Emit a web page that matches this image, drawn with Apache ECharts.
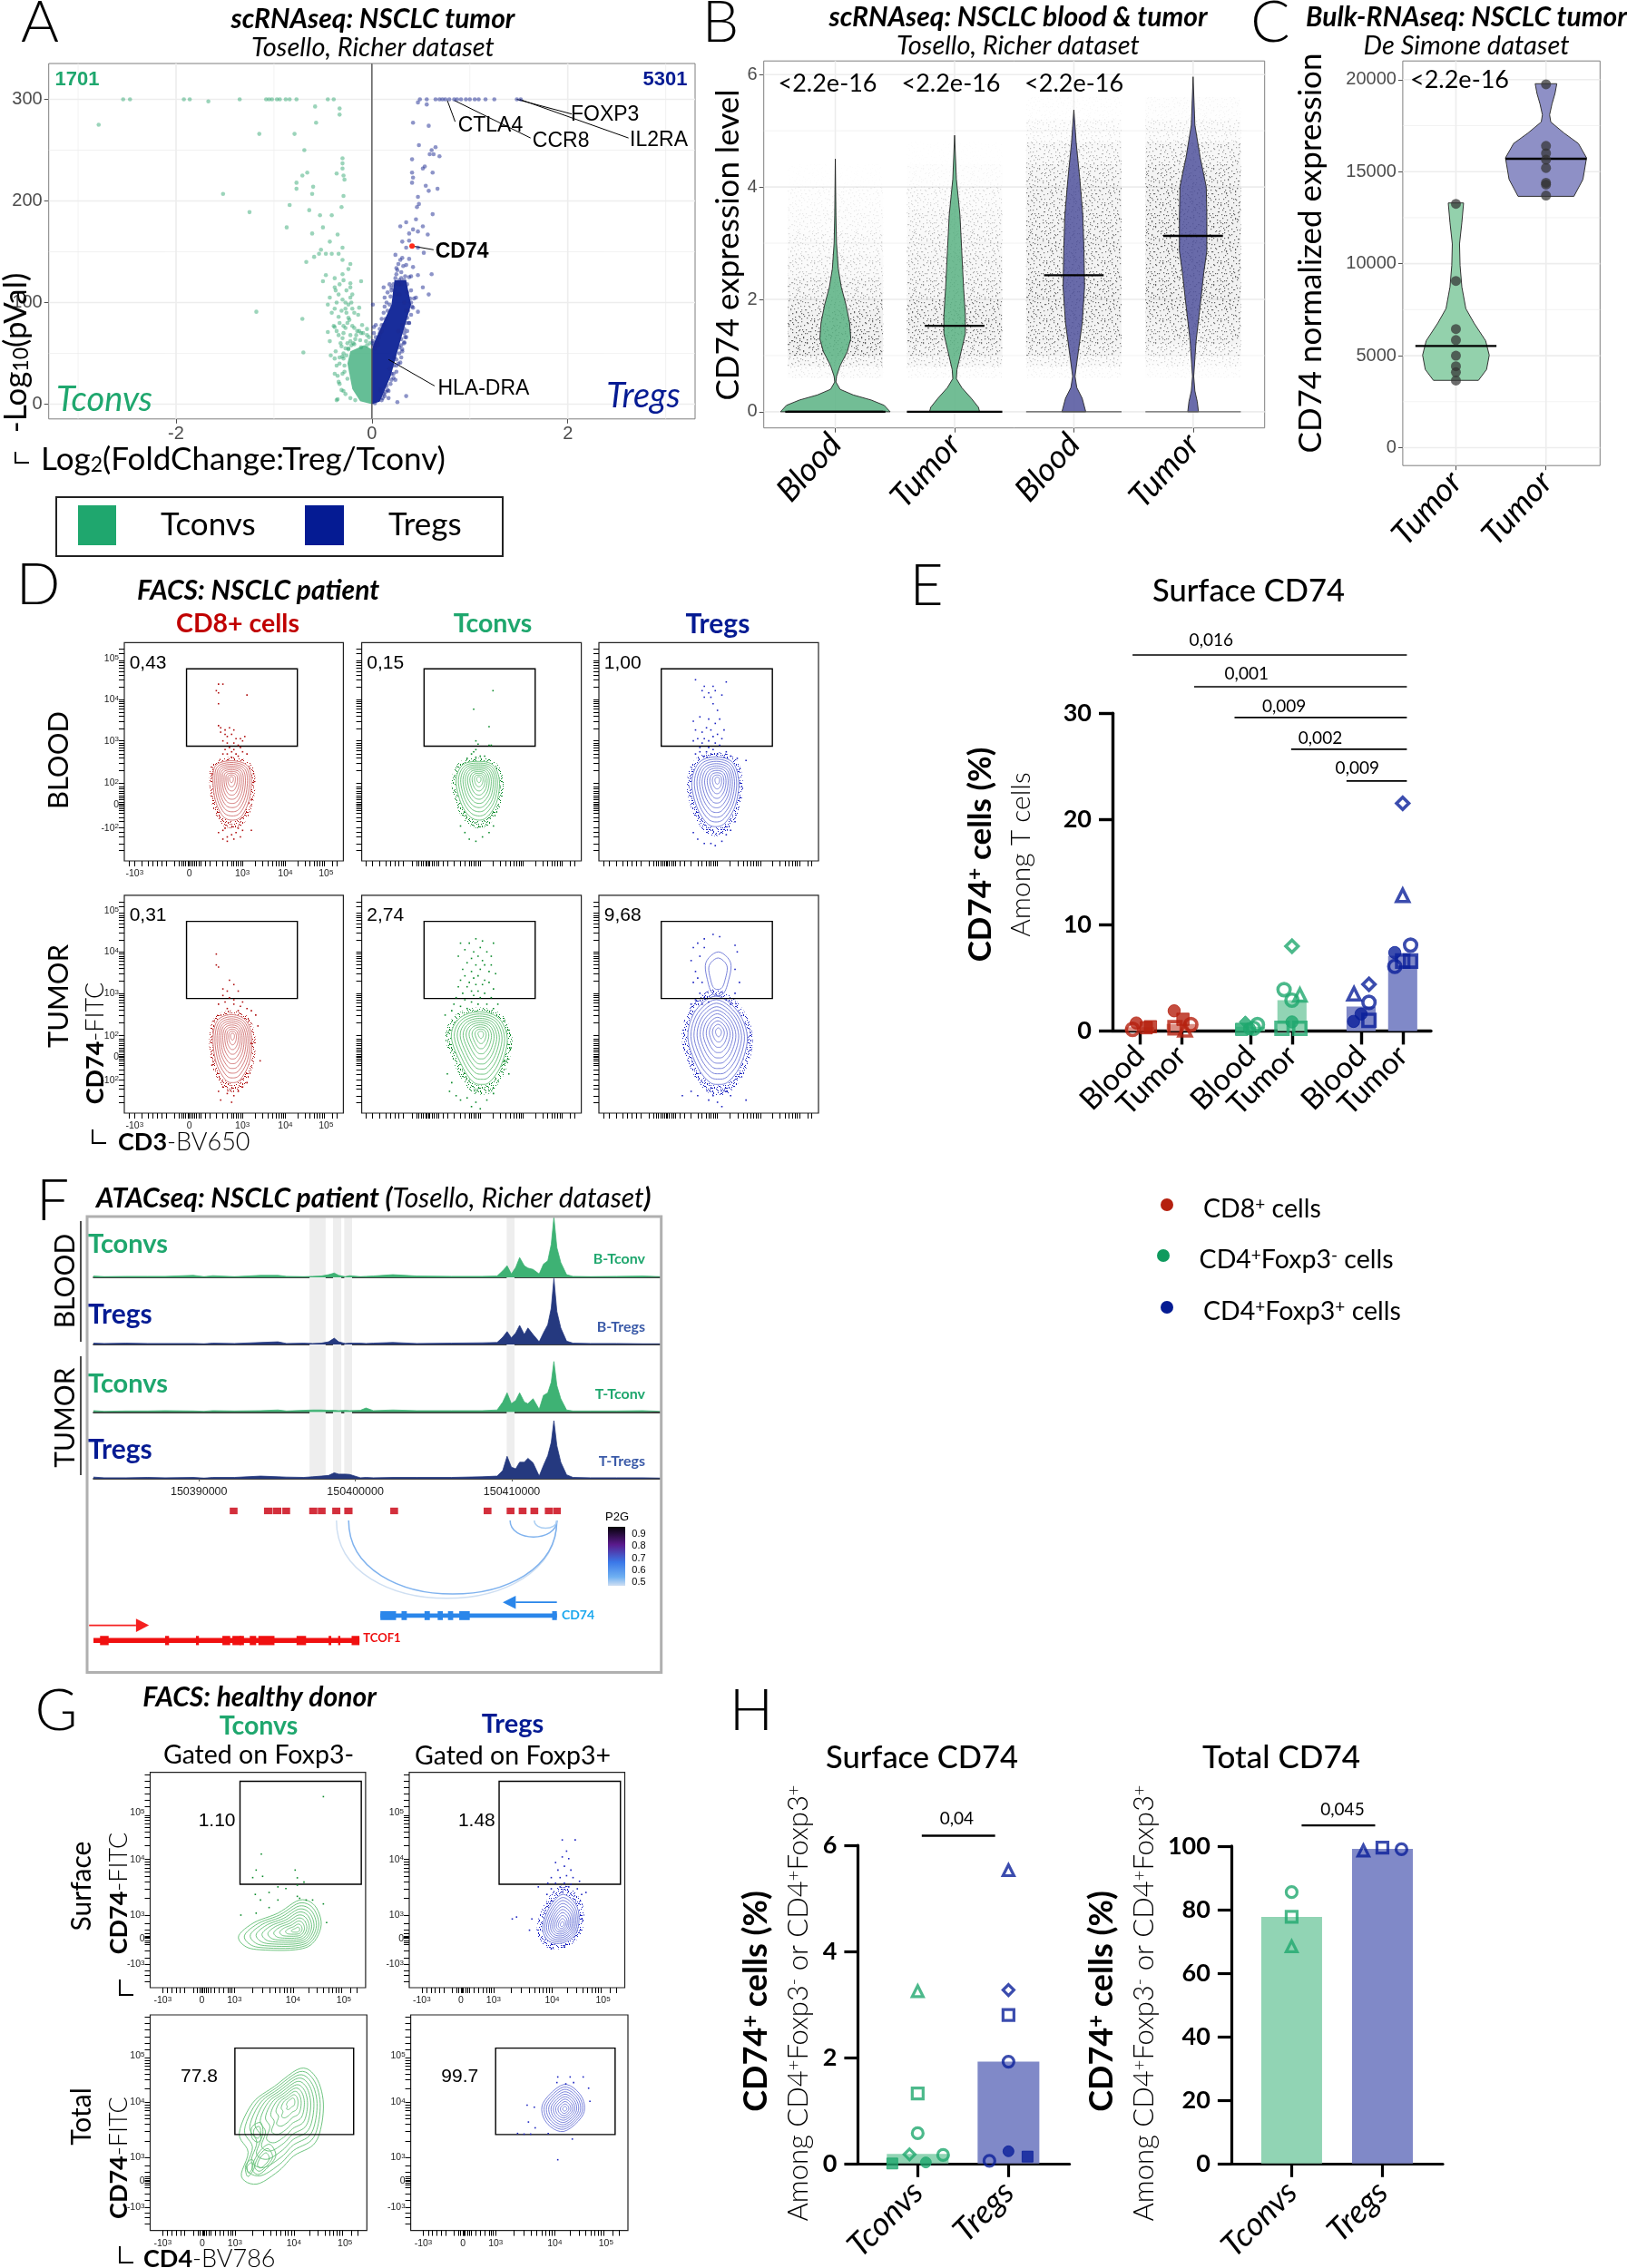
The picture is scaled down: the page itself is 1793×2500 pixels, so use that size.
<!DOCTYPE html>
<html><head><meta charset="utf-8">
<style>html,body{margin:0;padding:0;background:#fff}#c{width:1793px;height:2500px}</style>
<script src="https://cdn.jsdelivr.net/npm/echarts@6/dist/echarts.min.js"></script>
</head><body><div id="c"></div>
<script>
// ---------- colours / fonts
const GREEN='#1fa76e',NAVY='#051b93',RED='#b52412',LATO='Lato',HEL='"Liberation Sans"';
// ---------- A: volcano (x = log2FC, y = -log10 p)
const volGreenX=[-2.54,-2.47,-1.92,-1.86,-1.35,-1.08,-1.05,-1.02,-.97,-.94,-.88,-.84,-.77,-.45,-.39,-1.67,-.58,-.33,-.33,-.57,-2.79,-1.15,-.79,-.69,-.3,-.3,-.3,-.66,-.71,-.36,-.29,-.28,-.77,-.6,-.77,-.61,-1.52,-.29,-.84,-.31,-.64,-1.25,-.53,-.41,-.87,-.5,-.61,-.35,-.43,-.3,-.52,-.54,-.47,-.41,-.34,-.59,-.67,-.3,-.22,-.24,-.47,-.5,-.38,-.29,-.22,-.11,-.37,-.45,-.36,-.22,-.27,-1.18,-.71,-.38,-.2,-.24,-.39,-.29,-.2,-.45,-.34,-.22,-.11,-.7,-.31,-.24,-.18,-.38,-.29,-.36,-.29,-.35,-.33,-.3,-.28,-.35,-.3,-.33,-.27,-.22,-.16,-.12,-.06,-.03,-.18,-.25,-.14,-.1,-.05,-.32,-.37,-.42,-.29,-.34,-.41,-.24,-.2,-.3,-.33,-.43];
const volGreenY=[300,300,300,300,300,300,300,300,300,300,300,300,300,300,300,298,293,291,285,277,275,266,266,250,242,237,232,228,225,227,225,221,218,214,212,207,207,205,196,194,191,189,186,186,174,174,168,167,160,154,152,148,148,148,148,145,140,142,138,133,127,121,124,122,119,121,112,98,100,105,94,91,84,94,94,85,77,77,77,71,68,68,70,51,57,54,59,45,45,4,13,5,20,30,38,28,47,40,55,62,68,63,62,66,75,80,88,78,74,60,52,48,70,86,90,98,108,103,118,105];
const volBlueX=[.49,.56,.65,.69,.72,.75,.79,.84,.87,.91,.96,1,1.05,1.09,1.16,1.25,1.48,1.52,.47,.56,.42,.58,.48,.65,.61,.59,.63,.69,.41,.54,.52,.62,.41,.42,.41,.55,.67,.47,.58,.48,.46,.62,.45,.35,.29,.42,.52,.47,.38,.57,.31,.38,.47,.53,.35,.24,.31,.38,.35,.42,.61,.47,.26,.4,.33,.12,.58,.52,.45,.13,.47,.01,.38,.35,.35,.26,.17,.24,.29,.31,.33,.17,.12,.15,.2,.22,.18,.25,.23,.28,.3,.33,.27,.31,.36,.35,.4,.28,.2,.3,.36,.33,.12,.1,.08,.05,.02,.04,.42,.4,.38,.3,.25,.27];
const volBlueY=[300,300,300,300,300,300,300,300,300,300,300,300,300,300,300,300,300,300,297,295,277,274,255,253,250,246,246,244,241,234,232,228,228,223,218,215,212,204,210,197,194,187,182,179,175,172,175,170,168,167,160,161,154,149,154,147,144,143,137,135,128,127,119,126,122,115,108,115,105,105,91,98,80,66,8,2,13,24,41,54,61,6,10,18,24,30,35,38,46,50,58,70,72,78,85,92,100,108,115,118,110,100,90,78,70,62,70,78,95,112,125,130,128,138];
const volGreenEdge=[[-.05,68],[-.09,70],[-.13,72],[-.17,64],[-.21,58],[-.25,60],[-.29,50],[-.33,46],[-.36,38],[-.38,30],[-.34,22],[-.31,14],[-.27,10],[-.22,6],[-.17,4],[-.25,25],[-.28,32],[-.26,48],[-.24,55],[-.19,60],[-.15,72],[-.11,56],[-.05,58],[-.02,60],[-.3,65],[-.27,75],[-.23,83],[-.18,90],[-.13,95],[-.31,92],[-.38,76],[-.43,62],[-.26,90],[-.36,72],[-.33,80],[-.27,100],[-.21,100],[-.22,115],[-.26,112],[-.3,128],[-.34,108],[-.38,115]];
const volBlueEdge=[[.05,60],[.07,66],[.1,72],[.12,78],[.14,84],[.16,92],[.18,98],[.19,106],[.2,112],[.22,118],[.24,124],[.26,132],[.1,4],[.13,8],[.16,14],[.19,20],[.22,26],[.25,32],[.27,40],[.3,46],[.31,52],[.33,60],[.34,66],[.36,72],[.38,80],[.4,88],[.41,96],[.43,104],[.36,118],[.34,126],[.3,124],[.27,118],[.23,112],[.32,136],[.29,142],[.28,122],[.25,134],[.24,108],[.39,104],[.37,92],[.35,80],[.33,74],[.3,64],[.28,56],[.25,44],[.22,38],[.2,30],[.14,12],[.11,6],[.09,14],[.03,1],[.02,58],[.01,62],[.03,55],[.06,58],[.04,66],[.02,76],[.01,60],[.08,74],[.1,84],[.13,96],[.15,100],[.16,110],[.18,118]];
const volGreenCoreX=[0,-.12,-.2,-.25,-.22,-.08,0], volGreenCoreY=[0,3,15,40,52,58,54];
const volBlueCoreX=[0,.08,.19,.29,.4,.35,.23,.2,.03,0], volBlueCoreY=[0,2.5,27,62,98,122,122,98,62,54];
const geneNames=['FOXP3','IL2RA','CCR8','CTLA4','CD74','HLA-DRA'];
const geneX=[1.48,1.51,.84,.77,.41,.17], geneY=[300,300,299,299,155.7,44];
const geneEndX=[2.04,2.62,1.62,.85,.63,.64], geneEndY=[285.6,262,262,278,152,18];
const geneLabelX=[2.38,2.93,1.93,1.21,.92,1.14], geneLabelY=[285,260,259,273.6,150,15];
const volTickX=[-2,0,2], volTickY=[0,100,200,300];
// ---------- B: single-cell violins
const bCats=['Blood','Tumor','Blood','Tumor'];
const bTicks=[0,2,4,6], bPvals=['<2.2e-16','<2.2e-16','<2.2e-16'];
const vioVal1=[4.5,3.5,3.0,2.54,2.22,1.9,1.58,1.3,1.07,.82,.63,.53,.4,.3,.21,.115,0];
const vioHw1=[0,.005,.01,.025,.05,.09,.12,.13,.10,.04,.01,.005,.04,.15,.30,.41,.46];
const vioVal2=[4.92,4.14,3.5,2.86,2.22,1.71,1.39,1.07,.75,.59,.43,.24,.08,0];
const vioHw2=[0,.015,.045,.06,.075,.09,.09,.055,.02,.015,.06,.14,.2,.21];
const vioVal3=[5.37,4.78,4.14,3.5,2.86,2.22,1.58,.95,.63,.43,.24,0];
const vioHw3=[0,.02,.05,.075,.085,.09,.07,.03,.01,.025,.07,.1];
const vioVal4=[5.96,5.1,4.52,4.01,3.5,2.86,2.48,1.9,1.26,.63,.37,.18,0];
const vioHw4=[0,.015,.06,.11,.115,.115,.09,.06,.025,.005,.015,.035,.045];
const bMedian=[0,1.53,2.43,3.13], bMedianHw=[.42,.25,.25,.25];
const jitterEdges=[.6,.8,1,1.2,1.4,1.6,1.8,2,2.4,2.8,3.2,3.6,4,4.4,4.8,5.2,5.6];
const jitter1=[.12,.45,.9,1,.95,.9,.7,.5,.3,.2,.12,.08,.02,0,0,0];
const jitter2=[.08,.35,.65,.8,.85,.85,.8,.6,.5,.4,.3,.2,.05,.02,0,0];
const jitter3=[.08,.3,.65,.8,.8,.85,.85,.85,.8,.8,.75,.7,.6,.4,.15,.03];
const jitter4=[.05,.2,.45,.7,.75,.85,.9,.9,.9,.9,.9,.85,.75,.55,.2,.05];
// ---------- C: bulk violins
const cCats=['Tumor','Tumor'], cTicks=[0,5000,10000,15000,20000];
const cVal1=[3660,4250,5030,5810,6780,7560,8730,9900,11070,12240,13300];
const cHw1=[.25,.34,.37,.33,.2,.11,.066,.046,.04,.066,.085];
const cVal2=[13660,14580,15750,16530,17100,17700,18090,18670,19250,19780];
const cHw2=[.31,.41,.45,.36,.2,.053,.04,.066,.1,.12];
const cMedian=[5530,15700];
const cDots1=[13250,9060,6450,5850,5000,4430,4100,3650];
const cDots2=[19750,16400,16000,15650,15200,14400,14300,13700];
// ---------- D: FACS, contour outlines in channel units (0-100 along each display axis)
const dYLabelVals=[15.1,25.6,35.5,55,73.9,92.6], dYLabels=['-10{s|2}','0','10{s|2}','10{s|3}','10{s|4}','10{s|5}'];
const dXLabelVals=[4.7,29.7,53.9,73.5,92.1], dXLabels=['-10{s|3}','0','10{s|3}','10{s|4}','10{s|5}'];
const dPct=['0,43','0,15','1,00','0,31','2,74','9,68'];
const dOutBC=[[48.9,45.9],[55.8,44],[58,38],[57,28],[53.5,20.5],[49.4,18.7],[45,20.5],[41.5,28],[40.5,38],[42,44]], dCenBC=[48.9,37.8];
const dOutBT=[[53.1,45.6],[59.7,44],[62.7,37],[61.5,27],[57.5,20.5],[53.6,18.7],[49,20.5],[45,27],[43,37],[46,44]], dCenBT=[53.4,37.8];
const dOutBR=[[53.3,47.7],[61,45],[63.7,36],[62,25],[57.5,17.5],[53.3,15.7],[49,17.5],[44.5,25],[42.3,36],[45.5,45]], dCenBR=[54,37.3];
const dOutTC=[[48.9,45.2],[55.5,42.5],[58.2,34],[57,23],[53,15.5],[49.4,14],[46,15.5],[42,23],[40.5,34],[42.5,42.5]], dCenTC=[49.4,35.7];
const dOutTT=[[53.6,46.5],[62.5,43.5],[66.3,34],[63.5,22],[58.5,14.5],[54.8,13.2],[50.5,14.5],[45.5,22],[40.8,35],[44.5,43.5]], dCenTT=[54.3,36.6];
const dOutTR=[[53.3,53.7],[63,47],[67.6,35],[64.5,22],[59,14.5],[54.5,13.2],[50,14.5],[44.5,22],[40.5,35],[44,47]], dCenTR=[54.5,37.5];
const dLobeTR=[[54.4,74],[60,69],[58.8,60],[56.4,54.6],[52,54.6],[49.7,60],[48.7,69]], dLobeCenTR=[54,64];
const dDotsBC=[[43,81],[45,81],[42,78],[43,77],[56,76],[43,72],[43,62],[44,61],[46,60],[48,61],[50,60],[44,59],[46,58],[47,57],[49,58],[51,56],[53,56],[54,55],[55,57],[45,55],[47,54],[50,54],[52,53],[48,52],[50,51],[53,52],[46,51],[49,50],[51,49],[47,49],[54,50],[49,47.5],[52,48],[45,49],[56,49],[43,13],[45,10],[47,11],[49,12],[51,13],[53,11],[45,14],[47,9],[50,10],[46,15],[52,15],[54,14],[58,14],[58,28],[59,36],[59,40],[40,40]];
const dDotsBT=[[59.8,78],[51,69.5],[58,61.5],[52,55],[53,53.5],[58,53],[59,53],[52,51],[51,50],[50,49],[54,48],[52,47.5],[48,47],[56,48],[47,13],[49,10],[52,9],[55,11],[58,13],[60,16],[45,16]];
const dDotsBR=[[44,83],[48,80],[52,80],[58,82],[47,78],[50,77],[53,78],[56,76],[51,75],[48,75],[52,72],[54,69],[43,64],[46,66],[50,65],[53,63],[55,65],[57,60],[44,60],[47,59],[49,61],[51,60],[54,58],[52,57],[56,56],[48,56],[45,56],[43,55],[50,55],[47,54],[53,54],[55,53],[46,52],[50,52],[52,51],[49,50],[46,50],[54,49],[44,49],[58,50],[60,48],[48,48],[63,47],[67,46],[45,10],[48,8],[51,8],[53,7],[56,9],[58,12],[43,13],[60,14],[62,18]];
const dDotsTC=[[42,73],[42,68],[43,67],[48,61],[50,59],[45,57],[47,56],[52,56],[45,54],[48,53],[50,52],[54,51],[46,51],[50,50],[43,50],[53,49],[56,48],[58,47],[60,45],[52,47],[47,48],[61,40],[58,32],[62,24],[45,12],[47,9],[50,8],[52,10],[54,12],[44,6],[49,5],[43,10],[56,14],[40,22]];
const dDotsTT=[[45,78],[49,78],[52,80],[55,79],[60,78],[47,75],[51,74],[54,76],[57,74],[59,72],[44,72],[50,71],[53,72],[55,70],[48,69],[52,68],[56,68],[59,68],[46,66],[50,65],[54,66],[58,65],[61,64],[47,63],[51,62],[53,63],[56,61],[45,61],[49,60],[52,59],[55,59],[58,60],[60,57],[48,58],[44,58],[50,56],[53,56],[56,55],[46,55],[51,54],[54,53],[59,53],[43,53],[47,52],[50,51],[53,50],[57,50],[42,50],[62,50],[45,49],[48,48],[60,48],[38,45],[41,47],[40,10],[43,8],[45,6],[48,7],[50,3],[52,5],[54,2],[57,6],[60,9],[41,14],[65,24],[68,30],[67,18],[39,18]];
const dDotsTR=[[48,80],[52,82],[55,81],[43,76],[45,78],[48,76],[62,77],[63,74],[46,72],[42,70],[44,65],[45,62],[47,60],[62,66],[64,60],[62,55],[43,60],[46,55],[44,52],[48,53],[50,51],[58,52],[60,50],[47,50],[42,50],[42,10],[45,8],[50,6],[54,5],[56,3],[60,8],[67,6],[38,8],[52,8],[58,10]];
// ---------- E
const eCats=['Blood','Tumor','Blood','Tumor','Blood','Tumor'], eTicks=[0,10,20,30];
const eX=[1,2,3.66,4.66,6.32,7.32], eBar=[.35,.65,.4,2.9,2.3,7.1];
const eRedX=[.92,.83,1.26,1.16,1.83,2.04,1.85,2.23,2.09], eRedY=[.75,.15,.4,.3,1.9,1.1,.3,.6,.1];
const eRedShape=['c','o','r','r','c','r','q','o','t'];
const eGreenX=[3.54,3.83,3.45,3.64,3.74,4.66,4.47,4.85,4.66,4.66,4.85,4.42], eGreenY=[.85,.6,.15,.2,.25,8,3.9,3.4,2.9,.85,.25,.25];
const eGreenShape=['D','o','r','c','o','d','o','t','o','c','q','q'];
const eBlueX=[6.15,6.51,6.51,6.32,6.14,6.51,7.32,7.32,7.51,7.13,7.51,7.13,7.32], eBlueY=[3.5,4.4,2.7,1.6,.9,1,21.5,12.8,8.1,7.4,6.6,6.1,6.6];
const eBlueShape=['t','d','o','c','c','q','d','t','o','c','q','o','q'];
const ePvals=['0,016','0,001','0,009','0,002','0,009'];
const eBrFrom=[.83,2.31,3.28,4.64,5.97], eBrTo=[7.42,7.42,7.42,7.42,7.42], eBrY=[35.5,32.5,29.6,26.6,23.6];
const ePvalX=[2.72,3.57,4.47,5.34,6.23], ePvalY=[36.9,33.7,30.6,27.6,24.8];
// ---------- F: ATAC tracks, positions in kb from 150390000
const atacPos=[-6.74,-6.05,-4.66,-3.27,-2.16,-.36,.33,.89,2.27,3.94,5.05,5.6,6.71,7.27,7.82,8.29,8.65,8.93,9.35,9.63,10.32,10.68,11.15,12.4,13.92,16.14,18.09,19.06,19.42,19.7,19.97,20.25,20.5,20.8,21.03,21.36,21.75,22.02,22.3,22.52,22.69,22.88,23.13,23.5,23.91,25.02,26.69,28.35,29.51];
const atacBT=[4,2,3,3,3,6,2,5,2,6,6,3,2,3,4,8,13,6,2,5,2,3,4,8,4,3,3,4,20,35,10,30,60,35,28,24,10,40,50,100,182,90,45,8,3,2,3,4,2];
const atacBR=[4,3,4,3,3,3,2,4,3,6,8,3,4,3,4,8,19,8,3,4,4,3,4,6,3,4,5,6,22,39,20,35,58,30,50,30,8,35,60,110,200,100,50,10,4,3,3,2,2];
const atacTT=[4,2,3,3,4,3,2,4,3,4,6,3,5,6,6,5,5,4,5,4,5,12,4,6,4,4,4,6,30,58,25,35,58,30,25,40,8,50,58,90,153,80,40,6,3,3,3,4,2];
const atacTR=[5,3,3,4,3,4,2,4,4,8,6,5,4,6,8,10,18,14,14,13,3,4,3,4,4,4,6,8,25,68,35,30,50,50,62,48,8,40,70,110,176,100,50,12,4,3,3,3,2];
const atacTickVals=[0,10,20], atacTickLabels=['150390000','150400000','150410000'];
const shadeFrom=[7.07,8.57,9.29,19.67], shadeTo=[8.1,9.1,9.79,20.17];
const peakFrom=[1.97,4.16,4.72,5.33,7.05,7.6,8.52,9.29,12.23,18.2,19.67,20.44,21.19,22.11,22.64];
const peakTo=[2.47,4.69,5.27,5.83,7.57,8.1,9.04,9.82,12.73,18.7,20.17,20.94,21.69,22.61,23.13];
const arcTo=[8.79,9.57,19.89,21.44], arcBottom=[1298,1285,1112,1085], arcColor=['#cfdff2','#7fb2ee','#7fb2ee','#a9cdf2'];
const cd74ExonFrom=[11.6,12.95,14.42,15.26,15.92,16.64,22.58], cd74ExonTo=[12.6,13.29,14.76,15.59,16.25,17.31,22.88];
const tcof1ExonFrom=[-6.32,-2.16,-.19,1.5,2.14,2.61,3.25,3.8,6.24,8.29,8.9,9.76], tcof1ExonTo=[-5.77,-1.91,0,2,2.69,2.88,3.66,4.83,6.85,8.46,9.04,10.26];
const p2gTicks=['0.9','0.8','0.7','0.6','0.5'];
// ---------- G
const gYLabelVals=[10.7,22.9,33.7,59.5,81.1], gYLabels=['-10{s|3}','0','10{s|3}','10{s|4}','10{s|5}'];
const gXLabelVals=[5.8,24,39.1,66.3,89.9], gXLabels=['-10{s|3}','0','10{s|3}','10{s|4}','10{s|5}'];
const gPct=['1.10','1.48','77.8','99.7'];
const gOutST=[[41.1,24.1],[48.2,30.2],[59.3,34.6],[69.4,40.7],[76.4,38.1],[79.4,29.3],[75.4,20.6],[67.3,17.6],[51.1,17.6],[44,19.3]], gCenST=[68.3,26.7];
const gOutSR=[[71.4,43.3],[78,37.2],[78,26.7],[72,21],[65,21.5],[61.9,27.6],[65,37.2]], gCenSR=[71,29.3];
const gOutTT=[[69.4,75.2],[76.4,71.2],[79.8,60.7],[79,48.5],[75.4,39.8],[66.3,34.6],[59.3,27.6],[49.2,21.5],[42.1,25.1],[45.2,36.3],[41.1,45],[47.2,59],[57.3,66.8]], gCenTT=[65.3,59.9];
const gLobeTT1=[[52,45],[50,41],[47,43],[47,48],[51,50]], gLobeTT2=[[58,35],[55,30],[50,26],[47,29],[50,36],[55,40]], gLobeTT3=[[48,29],[45,25],[44,30],[47,33]];
const gOutTR=[[70.4,67.7],[78.4,62.5],[79.4,53.8],[70.4,45.9],[62.3,50.3],[60.9,59]], gCenTR=[71,56.4];
const gDotsST=[[80.4,88.7],[51.6,62],[49.2,54.6],[47.6,51.1],[52.2,51.7],[67.3,54.6],[71.4,49],[68.3,51],[59.3,46.8],[63,46],[68.3,47.6],[48.8,43.3],[55.2,44.2],[51.2,40.7],[59.3,40.7],[68.3,42.4],[69.4,41.5],[72.4,40.7],[75.4,40.7],[80.4,38.9],[42.1,33.7],[49.2,34.6],[55.2,37.2],[81.9,30.2]];
const gDotsSR=[[71,68.6],[77,68.6],[73,63.4],[71,60.7],[67.9,58.1],[74,59.9],[72,56.4],[69,54.6],[75,54.6],[65.9,51.1],[70,51.1],[73,52],[76,51.1],[79,49.4],[64.3,48.5],[67.9,48.5],[72,48.5],[75,48],[59.9,46.8],[65.9,45.9],[70,46.8],[74,46.8],[78,45.9],[82,44.2],[63.9,43.3],[80,43.3],[47.8,31.9],[49.8,32.8],[56.9,31.9],[55.8,26.7],[80,31.9],[65.9,18],[72,19.4]];
const gDotsTR=[[67.7,71.2],[73.4,71.2],[79.4,71.2],[81.9,66],[67.3,68.6],[71.4,68],[75,68.6],[53.6,58.1],[56.9,57.2],[54.2,50.3],[57.3,47.6],[49.2,45],[52.2,44.7],[55.2,44.7],[63.3,45],[74.4,42.4],[67.7,32.8],[82.5,59.9]];
// ---------- H
const hCats=['Tconvs','Tregs'];
const h1Ticks=[0,2,4,6], h1Bar=[.18,1.92];
const h1TX=[1,1,1,.91,1.28,1.09,.72], h1TY=[3.25,1.32,.57,.17,.16,.02,0], h1TShape=['t','q','o','d','o','c','r'];
const h1RX=[2,2,2,2,2,1.79,2.21], h1RY=[5.53,3.27,2.8,1.92,.23,.05,.13], h1RShape=['t','d','q','o','c','o','r'];
const h2Ticks=[0,20,40,60,80,100], h2Bar=[77.7,99.1];
const h2TX=[1,1,1], h2TY=[85.5,77.7,68.4], h2RX=[1.79,2,2.21], h2RY=[98.6,99.5,99], h2TShape=['o','q','t'], h2RShape=['t','q','o'];
// ---------- fixed speckle tile for dot clouds (typed, tiled as a fill texture)
const speckle=[[1,3],[5,0],[9,6],[13,2],[18,4],[22,1],[27,5],[30,2],[3,9],[7,12],[11,10],[16,8],[20,11],[25,9],[29,12],[0,15],[6,17],[10,14],[14,16],[19,15],[23,18],[28,16],[31,19],[2,21],[8,23],[12,20],[17,22],[21,24],[26,21],[30,25],[4,27],[9,29],[13,26],[18,28],[22,30],[27,27],[31,30],[1,31],[15,31],[6,25],[24,13],[15,12],[5,6],[11,18],[26,0],[20,7],[3,14],[17,18],[28,22],[10,2],[24,26],[7,20]];
function wideTile(color,sz){const c=document.createElement('canvas');c.width=c.height=64;const x=c.getContext('2d');x.fillStyle=color;
 speckle.forEach(p=>{[[p[0],p[1]],[32+p[1],p[0]],[31-p[0],32+p[1]],[63-p[1],63-p[0]],[(2*p[0]+1)%64,(2*p[1]+3)%64],[(2*p[1]+5)%64,(2*p[0]+9)%64]].forEach(q=>x.fillRect(q[0],q[1],sz,sz));});
 return {image:c,repeat:'repeat'};}
function denseTile(color,sz){const c=document.createElement('canvas');c.width=c.height=16;const x=c.getContext('2d');x.fillStyle=color;speckle.forEach(p=>x.fillRect(p[0]%16,p[1]%16,sz,sz));return {image:c,repeat:'repeat'};}
const patGray=wideTile('#3a3a3a',1.2),patRed=denseTile('#b01010',1),patGreen=denseTile('#0a8a2a',1),patBlue=denseTile('#1a22c0',1);

// ---------- option scaffolding
const G=[],X=[],Y=[],S=[],E=[];
function addGrid(l,t,r,b,xa,ya,gs){const i=G.length;
 G.push(Object.assign({left:l,top:t,width:r-l,height:b-t,show:false},gs||{}));
 const base={type:'value',gridIndex:i,splitLine:{show:false},axisLine:{show:false,onZero:false},axisTick:{show:false},axisLabel:{show:false}};
 X.push(Object.assign({},base,xa));Y.push(Object.assign({},base,ya));return i;}
function custom(g,items,draw,extra){S.push(Object.assign({type:'custom',coordinateSystem:'cartesian2d',xAxisIndex:g,yAxisIndex:g,silent:true,clip:false,
 data:items.map((_,i)=>[i,0]),renderItem:(p,api)=>draw(items[p.dataIndex],api,p.dataIndex)},extra||{}));}
function dots(g,data,size,color,op,sym){S.push({type:'scatter',xAxisIndex:g,yAxisIndex:g,silent:true,symbol:sym||'circle',symbolSize:size,itemStyle:{color,opacity:op==null?1:op},data});}
const zip=(a,b)=>a.map((v,i)=>[v,b[i]]);
const line=(a,b,stroke,w)=>({type:'line',shape:{x1:a[0],y1:a[1],x2:b[0],y2:b[1]},style:{stroke,lineWidth:w||1}});
function T(text,x,y,o){o=o||{};E.push({type:'text',x,y,rotation:(o.rot||0)*Math.PI/180,silent:true,z:50,style:{text,fill:o.color||'#000',fontSize:o.size||20,fontFamily:o.font||LATO,fontWeight:o.weight||'normal',fontStyle:o.style||'normal',align:o.align||'center',verticalAlign:'middle',textAlign:o.align||'center',textVerticalAlign:'middle',rich:o.rich}});}
const R=(size,weight,style,va,color)=>({fontSize:size,fontWeight:weight||'normal',fontStyle:style||'normal',fontFamily:LATO,verticalAlign:va||'middle',fill:color||'#000',color:color||'#000'});
function corner(x1,y1,x2,y2){E.push({type:'polyline',silent:true,z:50,shape:{points:[[x1,y1],[x1,y2],[x2,y2]]},style:{stroke:'#000',lineWidth:2,fill:null}});}
function rectG(x,y,w,h,fill,stroke,lw){E.push({type:'rect',silent:true,z:40,shape:{x,y,width:w,height:h},style:{fill:fill||null,stroke:stroke||null,lineWidth:lw||1}});}
function gridLines(g,xr,yr,xMaj,xMin,yMaj,yMin){const items=[];
 xMin.forEach(v=>items.push([[v,yr[0]],[v,yr[1]],.7]));yMin.forEach(v=>items.push([[xr[0],v],[xr[1],v],.7]));
 xMaj.forEach(v=>items.push([[v,yr[0]],[v,yr[1]],1.6]));yMaj.forEach(v=>items.push([[xr[0],v],[xr[1],v],1.6]));
 custom(g,items,(it,api)=>line(api.coord(it[0]),api.coord(it[1]),'#ededed',it[2]));}
const ggBorder={show:true,borderColor:'#7f7f7f',borderWidth:1,backgroundColor:'#fff'};
const ggTick={show:true,length:5,lineStyle:{color:'#4d4d4d',width:1}};
const ggLabel=(size,fmt)=>({show:true,color:'#4d4d4d',fontFamily:HEL,fontSize:size,margin:7,hideOverlap:false,showMinLabel:true,showMaxLabel:true,formatter:fmt||(v=>''+v)});

// ---------- A
(function(){const xr=[-3.3,3.3],yr=[-14.5,335.3];
 const g=addGrid(53.7,70,766,461.8,{min:xr[0],max:xr[1],axisTick:Object.assign({},ggTick,{customValues:volTickX}),axisLabel:Object.assign(ggLabel(20),{customValues:volTickX})},
  {min:yr[0],max:yr[1],axisTick:Object.assign({},ggTick,{customValues:volTickY}),axisLabel:Object.assign(ggLabel(20),{customValues:volTickY})},ggBorder);
 gridLines(g,xr,yr,volTickX,[-3,-1,1,3],volTickY,[50,150,250]);
 custom(g,[[zip(volGreenCoreX,volGreenCoreY),'#3fae7c',.8],[zip(volBlueCoreX,volBlueCoreY),NAVY,.92]],(it,api)=>({type:'polygon',shape:{points:it[0].map(p=>api.coord(p))},style:{fill:it[1],opacity:it[2]}}));
 dots(g,zip(volGreenX,volGreenY).concat(volGreenEdge),4.6,'#2ea56f',.48);
 dots(g,zip(volBlueX,volBlueY).concat(volBlueEdge),4.6,'#1c2a92',.5);
 custom(g,[0],(it,api)=>line(api.coord([0,yr[0]]),api.coord([0,yr[1]]),'#555',1.4));
 dots(g,[[.41,155.7]],6,'#ff2a1a',1);
 custom(g,geneNames,(n,api,i)=>({type:'group',children:[
  line(api.coord([geneX[i],geneY[i]]),api.coord([geneEndX[i],geneEndY[i]]),'#000',1),
  Object.assign({type:'text',style:{text:n,fill:'#000',fontFamily:HEL,fontSize:23,fontWeight:n==='CD74'?'bold':'normal',align:'center',verticalAlign:'middle',textAlign:'center',textVerticalAlign:'middle'}},{x:api.coord([geneLabelX[i],0])[0],y:api.coord([0,geneLabelY[i]])[1]})]}));
})();
// ---------- B
(function(){const xr=[.4,4.6],yr=[-.287,6.242];
 const xT=[1,2,3,4];
 const g=addGrid(841.7,67.2,1393.7,471.7,{min:xr[0],max:xr[1],axisTick:Object.assign({},ggTick,{customValues:xT}),
   axisLabel:{show:true,customValues:xT,formatter:v=>bCats[v-1],rotate:48,margin:12,fontFamily:LATO,fontStyle:'italic',fontSize:36,color:'#000',hideOverlap:false,showMinLabel:true,showMaxLabel:true}},
  {min:yr[0],max:yr[1],axisTick:Object.assign({},ggTick,{customValues:bTicks}),axisLabel:Object.assign(ggLabel(20),{customValues:bTicks})},ggBorder);
 gridLines(g,xr,yr,xT,[],bTicks,[1,3,5]);
 const jit=[jitter1,jitter2,jitter3,jitter4],vv=[vioVal1,vioVal2,vioVal3,vioVal4],vh=[vioHw1,vioHw2,vioHw3,vioHw4],fills=['#5fb486','#5fb486','#55589f','#55589f'];
 const bands=[];jit.forEach((arr,k)=>arr.forEach((o,j)=>{if(o>0)bands.push([k+1,jitterEdges[j],jitterEdges[j+1],o]);}));
 custom(g,bands,(b,api)=>{const a=api.coord([b[0]-.4,b[2]]),c=api.coord([b[0]+.4,b[1]]);const sh={x:a[0],y:a[1],width:c[0]-a[0],height:c[1]-a[1]};
   return {type:'group',children:[{type:'rect',shape:sh,style:{fill:'#8a8a8a',opacity:b[3]*.13}},{type:'rect',shape:sh,style:{fill:patGray,opacity:b[3]*.85}}]};});
 custom(g,vv,(val,api,k)=>{const pts=[];val.forEach((v,i)=>pts.push(api.coord([k+1-vh[k][i],v])));for(let i=val.length-1;i>=0;i--)pts.push(api.coord([k+1+vh[k][i],val[i]]));
   return {type:'polygon',shape:{points:pts},style:{fill:fills[k],opacity:.88,stroke:'#222',lineWidth:1}};});
 custom(g,bMedian,(m,api,k)=>line(api.coord([k+1-bMedianHw[k],m]),api.coord([k+1+bMedianHw[k],m]),'#000',2.4));
 custom(g,[1,2,3],(q,api,k)=>{return line(api.coord([k+1-.4,0]),api.coord([k+1+.4,0]),k==2?'#555':'#000',k==2?1.2:2.4)},{});
 custom(g,[4],(q,api)=>line(api.coord([3.6,0]),api.coord([4.4,0]),'#666',1.4));
 custom(g,bPvals,(t,api,k)=>({type:'text',x:[912,1048,1183.6][k],y:92,style:{text:t,fill:'#000',fontFamily:LATO,fontSize:27,align:'center',verticalAlign:'middle',textAlign:'center',textVerticalAlign:'middle'}}));
})();
// ---------- C
(function(){const xr=[.41,2.6],yr=[-971,21016],xT=[1,2];
 const g=addGrid(1545.9,67.2,1763.3,513.2,{min:xr[0],max:xr[1],axisTick:Object.assign({},ggTick,{customValues:xT}),
   axisLabel:{show:true,customValues:xT,formatter:v=>cCats[v-1],rotate:48,margin:12,fontFamily:LATO,fontStyle:'italic',fontSize:36,color:'#000',hideOverlap:false,showMinLabel:true,showMaxLabel:true}},
  {min:yr[0],max:yr[1],axisTick:Object.assign({},ggTick,{customValues:cTicks}),axisLabel:Object.assign(ggLabel(20),{customValues:cTicks})},ggBorder);
 gridLines(g,xr,yr,xT,[],cTicks,[2500,7500,12500,17500]);
 custom(g,[[cVal1,cHw1,'#93d1ac'],[cVal2,cHw2,'#8e90c6']],(it,api,k)=>{const pts=[];it[0].forEach((v,i)=>pts.push(api.coord([k+1-it[1][i],v])));for(let i=it[0].length-1;i>=0;i--)pts.push(api.coord([k+1+it[1][i],it[0][i]]));
   return {type:'polygon',shape:{points:pts},style:{fill:it[2],stroke:'#333',lineWidth:1}};});
 dots(g,cDots1.map(v=>[1,v]),11,'#333',.72);dots(g,cDots2.map(v=>[2,v]),11,'#333',.72);
 custom(g,cMedian,(m,api,k)=>line(api.coord([k+1-.45,m]),api.coord([k+1+.45,m]),'#000',2.4));
 custom(g,[0],(q,api)=>({type:'text',x:1608.5,y:88,style:{text:'<2.2e-16',fill:'#000',fontFamily:LATO,fontSize:27,align:'center',verticalAlign:'middle',textAlign:'center',textVerticalAlign:'middle'}}));
})();
// ---------- FACS helper
function decade(a,b){const r=[];for(let k=1;k<10;k++)r.push(+(a+(b-a)*Math.log10(k)).toFixed(2));return r;}
const dXTicks=[2,4.7,8,11,13,15,17,19,23,25,26,27,28,29,29.7,30.5,31,32,33,34,35,37,39,42,45,47,49,50,51,52,53,...decade(53.9,73.5),...decade(73.5,92.1),95,97];
const dYTicks=[5,8,11,13,15.1,18,20,22,23,24,25,25.6,26,27,28,29,30,31,32,33,34,...decade(35.5,55),...decade(55,73.9),...decade(73.9,92.6),95,97];
const gXTicks=[5.8,8,10,12,14,16,20,22,23,24,24.5,25,26,27,28,30,32,34,36,37,38,...decade(39.1,66.3),...decade(66.3,89.9),93,96];
const gYTicks=[3,6,8,10.7,14,17,20,21,22,22.9,23.5,24,25,27,30,...decade(33.7,59.5),...decade(59.5,81.1),84,87,90,93,96,99];
const facsLevels=[1,.9,.8,.7,.6,.5,.4,.3,.2,.1];
function scalePts(o,c,s){return o.map(p=>[c[0]+(p[0]-c[0])*s,c[1]+(p[1]-c[1])*s]);}
// rounds a typed closed outline for drawing (Catmull-Rom through the typed vertices)
function roundOutline(pts){const n=pts.length,r=[];for(let i=0;i<n;i++){const a=pts[(i-1+n)%n],b=pts[i],c=pts[(i+1)%n],d=pts[(i+2)%n];
  for(let k=0;k<6;k++){const t=k/6,t2=t*t,t3=t2*t;r.push([0,1].map(j=>.5*(2*b[j]+(c[j]-a[j])*t+(2*a[j]-5*b[j]+4*c[j]-d[j])*t2+(3*b[j]-a[j]-3*c[j]+d[j])*t3)));}}return r;}
function contourEl(out,cen,s,api,style){return {type:'polygon',shape:{points:roundOutline(scalePts(out,cen,s)).map(a=>api.coord(a))},style};}
function facs(p){
 const lab=(on,vals,strs,m)=>({show:on,customValues:vals,formatter:v=>strs[vals.indexOf(v)],margin:m,fontFamily:HEL,fontSize:10.5,color:'#222',hideOverlap:false,showMinLabel:true,showMaxLabel:true,rich:{s:{fontSize:8,fontFamily:HEL,color:'#222',verticalAlign:'top'}}});
 const tick=v=>({show:true,customValues:v,length:6,lineStyle:{color:'#000',width:1}});
 const g=addGrid(p.box[0],p.box[1],p.box[2],p.box[3],{min:0,max:100,axisTick:tick(p.xT),axisLabel:lab(p.xl,p.xV,p.xS,9)},{min:0,max:100,axisTick:tick(p.yT),axisLabel:lab(p.yl,p.yV,p.yS,6)},
   {show:true,borderColor:'#222',borderWidth:1.2,backgroundColor:'#fff'});
 if(p.halo) custom(g,[0],(q,api)=>({type:'group',children:[
   contourEl(p.out,p.cen,p.haloS||1.25,api,{fill:p.halo}),contourEl(p.out,p.cen,1.02,api,{fill:'#fff'})]}));
 const sty={fill:null,stroke:p.line,lineWidth:1,opacity:.9};
 custom(g,p.levels||facsLevels,(s,api)=>contourEl(p.out,p.cen,s,api,sty));
 (p.extra||[]).forEach(ex=>custom(g,ex.levels,(s,api)=>contourEl(ex.out,ex.cen,s,api,sty)));
 if(p.dots) dots(g,p.dots,1.6,p.dot,1,'rect');
 custom(g,[p.gate],(gt,api)=>{const a=api.coord([gt[0],gt[3]]),b=api.coord([gt[1],gt[2]]);return {type:'rect',shape:{x:a[0],y:a[1],width:b[0]-a[0],height:b[1]-a[1]},style:{fill:null,stroke:'#000',lineWidth:1.4}};});
 custom(g,[p.pct],(t,api)=>{const a=api.coord(p.pctAt);return {type:'text',x:a[0],y:a[1],style:{text:t,fill:'#000',fontFamily:HEL,fontSize:21,align:'center',verticalAlign:'middle',textAlign:'center',textVerticalAlign:'middle'}};});
}
const LR='#cf6e6e',LG='#5fbe72',LB='#6b76d6';
const dCols=[[137,378.4],[398.6,640.6],[660,902]],dRows=[[708.4,949],[986.8,1227]];
const dTable=[[dOutBC,dCenBC,dDotsBC,LR,patRed,'#b01010'],[dOutBT,dCenBT,dDotsBT,LG,patGreen,'#0a8a2a'],[dOutBR,dCenBR,dDotsBR,LB,patBlue,'#1a22c0'],[dOutTC,dCenTC,dDotsTC,LR,patRed,'#b01010'],[dOutTT,dCenTT,dDotsTT,LG,patGreen,'#0a8a2a'],[dOutTR,dCenTR,dDotsTR,LB,patBlue,'#1a22c0']];
dTable.forEach((d,i)=>{const c=i%3,r=Math.floor(i/3);
 const p={box:[dCols[c][0],dRows[r][0],dCols[c][1],dRows[r][1]],xT:dXTicks,yT:dYTicks,xV:dXLabelVals,xS:dXLabels,yV:dYLabelVals,yS:dYLabels,xl:c===0,yl:c===0,
  out:d[0],cen:d[1],dots:d[2],line:d[3],halo:d[4],dot:d[5],gate:[28.4,79,52.6,88],pct:dPct[i],pctAt:[10.8,90.5],haloS:1.2};
 if(i===5)p.extra=[{out:dLobeTR,cen:dLobeCenTR,levels:[1,.72]}];
 facs(p);});
const gBoxes=[[165.5,1953.6,402.9,2191],[451,1953.6,688.5,2191],[165.5,2221,404.3,2458.6],[452.6,2221,692,2458.6]];
const gAll=[[gOutST,gCenST,gDotsST,LG,null,'#0a8a2a'],[gOutSR,gCenSR,gDotsSR,LB,patBlue,'#1a22c0'],[gOutTT,gCenTT,null,LG,null,'#0a8a2a'],[gOutTR,gCenTR,gDotsTR,LB,null,'#1a22c0']];
const gGates=[[41.7,98,48,95.8],[41.7,98,48,95.8],[39.1,93.9,44.5,84.6],[39.1,94.1,44.5,84.6]];
const gPctAt=[[31,77.3],[31.3,77.3],[22.6,71.2],[22.6,71.2]];
gAll.forEach((d,i)=>{const p={box:gBoxes[i],xT:gXTicks,yT:gYTicks,xV:gXLabelVals,xS:gXLabels,yV:gYLabelVals,yS:gYLabels,xl:true,yl:true,out:d[0],cen:d[1],dots:d[2],line:d[3],halo:d[4],dot:d[5],gate:gGates[i],pct:gPct[i],pctAt:gPctAt[i],haloS:1.3};
 if(i===2)p.extra=[{out:gLobeTT1,cen:[49.5,45.5],levels:[1,.6]},{out:gLobeTT2,cen:[52,32],levels:[1,.75,.5]},{out:gLobeTT3,cen:[46,29],levels:[1,.6]}];
 facs(p);});
// ---------- bar + symbol panels
function pointSeries(g,xs,ys,shapes,color,size,lw){
 const sym={c:'circle',o:'circle',r:'rect',q:'rect',t:'triangle',d:'diamond',D:'diamond'};
 const data=xs.map((x,i)=>{const s=shapes[i],filled=(s==='c'||s==='r'||s==='D');
  return {value:[x,ys[i]],symbol:sym[s],symbolSize:size,itemStyle:filled?{color,borderColor:color,borderWidth:1}:{color:'rgba(0,0,0,0)',borderColor:color,borderWidth:lw}};});
 S.push({type:'scatter',xAxisIndex:g,yAxisIndex:g,silent:true,clip:false,data,z:5});}
function barPanel(l,t,r,b,xr,yr,xT,cats,yT,rot,lblSize,lblStyle,lw,xm){
 const axisLine={show:true,onZero:false,lineStyle:{color:'#000',width:lw}};
 const tick=v=>({show:true,customValues:v,length:15,lineStyle:{color:'#000',width:lw}});
 const g=addGrid(l,t,r,b,{min:xr[0],max:xr[1],axisLine,axisTick:tick(xT),axisLabel:{show:false}},
  {min:yr[0],max:yr[1],axisLine,axisTick:tick(yT),axisLabel:{show:true,customValues:yT,margin:23,fontFamily:LATO,fontWeight:'bold',fontSize:27,color:'#000',hideOverlap:false,showMinLabel:true,showMaxLabel:true}});
 // category names placed at their x positions, rotated, so neighbours are never dropped as overlapping
 custom(g,xT,(x,api,i)=>{const a=api.coord([x,0]);return {type:'text',x:a[0],y:a[1]+xm,rotation:rot*Math.PI/180,style:{text:cats[i],fill:'#000',fontFamily:LATO,fontStyle:lblStyle,fontSize:lblSize,align:'right',verticalAlign:'middle',textAlign:'right',textVerticalAlign:'middle'}};});
 return g;}
function bars(g,xs,vals,hw,colors){custom(g,xs,(x,api,i)=>{const a=api.coord([x-hw,vals[i]]),b=api.coord([x+hw,0]);return {type:'rect',shape:{x:a[0],y:a[1],width:b[0]-a[0],height:b[1]-a[1]},style:{fill:colors[i]}};});}
function brackets(g,from,to,y,lw){custom(g,from,(f,api,i)=>line(api.coord([f,y[i]]),api.coord([to[i],y[i]]),'#000',lw));}
function pvals(g,txt,x,y,size){custom(g,txt,(t,api,i)=>{const a=api.coord([x[i],y[i]]);return {type:'text',x:a[0],y:a[1],style:{text:t,fill:'#000',fontFamily:LATO,fontSize:size,align:'center',verticalAlign:'middle',textAlign:'center',textVerticalAlign:'middle'}};});}
const LRED='#dc8f84',LGRN='#91d4b4',LBLU='#8089c8';
(function(){const g=barPanel(1226,786.2,1577,1136.4,[.348,8],[0,30],eX,eCats,eTicks,45,33,'normal',3.4,22);
 bars(g,eX,eBar,.35,[LRED,LRED,LGRN,LGRN,LBLU,LBLU]);
 pointSeries(g,eRedX,eRedY,eRedShape,'#b5200f',13.5,3.6);pointSeries(g,eGreenX,eGreenY,eGreenShape,'#1fa76e',13.5,3.6);pointSeries(g,eBlueX,eBlueY,eBlueShape,'#0a1f9a',13.5,3.6);
 brackets(g,eBrFrom,eBrTo,eBrY,1.6);pvals(g,ePvals,ePvalX,ePvalY,19);
})();
(function(){const xT=[1,2],g=barPanel(945.4,2034,1178.6,2384.8,[.341,2.672],[0,6],xT,hCats,h1Ticks,45,36,'italic',3.2,26);
 bars(g,xT,h1Bar,.34,[LGRN,LBLU]);
 pointSeries(g,h1TX,h1TY,h1TShape,'#1fa76e',12,3.2);pointSeries(g,h1RX,h1RY,h1RShape,'#0a1f9a',12,3.2);
 brackets(g,[1.045],[1.853],[6.18],2.4);pvals(g,['0,04'],[1.43],[6.5],19);
})();
(function(){const xT=[1,2],g=barPanel(1356.9,2034.9,1590,2384.8,[.335,2.665],[0,100],xT,hCats,h2Ticks,45,36,'italic',3.2,26);
 bars(g,xT,h2Bar,.335,[LGRN,LBLU]);
 pointSeries(g,h2TX,h2TY,h2TShape,'#1fa76e',12,3.2);pointSeries(g,h2RX,h2RY,h2RShape,'#0a1f9a',12,3.2);
 brackets(g,[1.11],[1.92],[106.5],2.4);pvals(g,['0,045'],[1.56],[111.4],19);
})();
// ---------- F
(function(){const xr=[-6.74,29.51];
 const bg=addGrid(103,1342,728,1630,{min:xr[0],max:xr[1]},{min:0,max:1});
 custom(bg,shadeFrom,(f,api,i)=>{const a=api.coord([f,1]),b=api.coord([shadeTo[i],0]);return {type:'rect',shape:{x:a[0],y:a[1],width:b[0]-a[0],height:b[1]-a[1]},style:{fill:'#eeeeee'}};});
 [[1408,atacBT,'#3eb274'],[1482,atacBR,'#25397f'],[1556.4,atacTT,'#3eb274'],[1630,atacTR,'#25397f']].forEach((t,i)=>{
  const lastLabel=i===3;
  const g=addGrid(103,t[0]-72.7,728,t[0],{min:xr[0],max:xr[1],axisLine:{show:true,onZero:false,lineStyle:{color:'#000',width:1.6}},
    axisTick:lastLabel?{show:true,customValues:atacTickVals,length:3,lineStyle:{color:'#555'}}:{show:false},
    axisLabel:lastLabel?{show:true,customValues:atacTickVals,formatter:v=>atacTickLabels[atacTickVals.indexOf(v)],fontFamily:HEL,fontSize:12.5,color:'#222',margin:8,hideOverlap:false}:{show:false}},{min:0,max:200});
  S.push({type:'line',xAxisIndex:g,yAxisIndex:g,silent:true,symbol:'none',data:zip(atacPos,t[1]),lineStyle:{color:t[2],width:.8},areaStyle:{color:t[2],opacity:1},clip:true});
 });
 const lo=addGrid(103,1635.3,728,1843.6,{min:xr[0],max:xr[1]},{min:950,max:1523,inverse:true});
 const rect=(api,a,b,c,d,fill)=>{const p=api.coord([a,c]),q=api.coord([b,d]);return {type:'rect',shape:{x:p[0],y:p[1],width:q[0]-p[0],height:q[1]-p[1]},style:{fill}};};
 custom(lo,peakFrom,(f,api,i)=>rect(api,f,peakTo[i],1023,1043,'#d32f3c'));
 custom(lo,arcTo,(t,api,i)=>{const a=api.coord([22.88,1062]),b=api.coord([t,1062]),d=api.coord([t,1062+(arcBottom[i]-1062)*4/3]),e=api.coord([22.88,1062+(arcBottom[i]-1062)*4/3]);
   return {type:'bezierCurve',shape:{x1:b[0],y1:b[1],x2:a[0],y2:a[1],cpx1:d[0],cpy1:d[1],cpx2:e[0],cpy2:e[1]},style:{stroke:arcColor[i],lineWidth:1.5,fill:null}};});
 custom(lo,[0],(q,api)=>rect(api,11.6,22.88,1344,1357,'#2a86ea'));
 custom(lo,cd74ExonFrom,(f,api,i)=>rect(api,f,cd74ExonTo[i],1337,1364,'#2a86ea'));
 custom(lo,[0],(q,api)=>rect(api,-6.74,10.26,1418,1433,'#f01010'));
 custom(lo,tcof1ExonFrom,(f,api,i)=>rect(api,f,tcof1ExonTo[i],1412,1440,'#f01010'));
 const arrow=(api,a,b,tip,row,c)=>({type:'group',children:[line(api.coord([a,row]),api.coord([b,row]),c,1.6),
   {type:'polygon',shape:{points:[api.coord([b,row-20]),api.coord([b,row+20]),api.coord([tip,row])]},style:{fill:c}}]});
 custom(lo,[0],(q,api)=>arrow(api,22.88,20.25,19.42,1310,'#2a86ea'));
 custom(lo,[0],(q,api)=>arrow(api,-7.02,-4.02,-3.19,1380,'#f52020'));
})();
// ---------- text & furniture
const L=(t,x,y)=>T(t,x,y,{size:64,weight:300});
L('A',44,25);L('B',794,25);L('C',1400,25);L('D',42,645);L('E',1021,646);L('F',58,1324);L('G',62,1886);L('H',828,1886);
const head=(t,x,y,s)=>T(t,x,y,{size:s||30,weight:'bold',style:'italic'});const sub=(t,x,y)=>T(t,x,y,{size:29,style:'italic'});
head('scRNAseq: NSCLC tumor',411,21);sub('Tosello, Richer dataset',411,53);
head('scRNAseq: NSCLC blood & tumor',1122,19);sub('Tosello, Richer dataset',1122,51);
head('Bulk-RNAseq: NSCLC tumor',1616,19);sub('De Simone dataset',1616,51);
T('{n|-Log}{s|10}{n|(pVal)}',18,389,{rot:90,rich:{n:R(35),s:R(23,'normal','normal','bottom')}});
T('{n|Log}{s|2}{n|(FoldChange:Treg/Tconv)}',45,507,{align:'left',rich:{n:R(35),s:R(23,'normal','normal','bottom')}});
corner(17,498,32,510);
T('1701',85,88,{font:HEL,size:22,weight:'bold',color:GREEN});T('5301',733,88,{font:HEL,size:22,weight:'bold',color:NAVY});
T('Tconvs',115,441,{size:38,style:'italic',color:GREEN});T('Tregs',709,437,{size:38,style:'italic',color:NAVY});
rectG(62,548,492,65,null,'#222',2);rectG(86,557,42,44,GREEN);rectG(336,557,43,44,NAVY);
T('Tconvs',177,579,{size:35,align:'left'});T('Tregs',428,579,{size:35,align:'left'});
T('CD74 expression level',803,270,{rot:90,size:35});T('CD74 normalized expression',1445,279,{rot:90,size:35});
// D text
T('FACS: NSCLC patient',151,651,{size:30,weight:'bold',style:'italic',align:'left'});
T('CD8+ cells',262,688,{size:28.5,weight:'bold',color:'#c00000'});T('Tconvs',543,688,{size:28.5,weight:'bold',color:GREEN});T('Tregs',791,688,{size:30,weight:'bold',color:NAVY});
T('BLOOD',65,838,{rot:90,size:31});T('TUMOR',65,1098,{rot:90,size:31});
const fitc={b:R(27,'bold'),n:R(27,300)};
T('{b|CD74}{n|-FITC}',105.6,1150,{rot:90,rich:fitc});T('{b|CD3}{n|-BV650}',130,1259,{align:'left',rich:fitc});corner(102,1245,117,1260);
// E text
T('Surface CD74',1376,652,{size:34.5,weight:500});
T('{b|CD74}{s|+}{b| cells (%)}',1081,942,{rot:90,rich:{b:R(35,'bold'),s:R(23,'bold','normal','top')}});
T('Among T cells',1125,942,{rot:90,size:30,weight:300});
const legR={n:R(28.5),s:R(19,'normal','normal','top')};
[[1286,1328,'#b5200f'],[1282,1384,'#0f9a5e'],[1286,1441,NAVY]].forEach(d=>E.push({type:'circle',silent:true,z:40,shape:{cx:d[0],cy:d[1],r:7},style:{fill:d[2]}}));
T('{n|CD8}{s|+}{n| cells}',1326,1333,{align:'left',rich:legR});
T('{n|CD4}{s|+}{n|Foxp3}{s|-}{n| cells}',1321.6,1389,{align:'left',rich:legR});
T('{n|CD4}{s|+}{n|Foxp3}{s|+}{n| cells}',1326,1446,{align:'left',rich:legR});
// F text
T('{b|ATACseq: NSCLC patient (}{i|Tosello, Richer dataset}{b|)}',106,1321,{align:'left',rich:{b:R(30,'bold','italic'),i:R(30,'normal','italic')}});
rectG(96,1341,632.7,502.6,null,'#b0b0b0',3);
[['Tconvs',1372,GREEN,29],['Tregs',1449,NAVY,30],['Tconvs',1525.5,GREEN,29],['Tregs',1598,NAVY,30]].forEach(t=>T(t[0],97,t[1],{size:t[3],weight:'bold',color:t[2],align:'left'}));
[['B-Tconv',1388,GREEN],['B-Tregs',1462.7,'#3a5aa8'],['T-Tconv',1536.5,GREEN],['T-Tregs',1610.6,'#3a5aa8']].forEach(t=>T(t[0],711,t[1],{size:16,weight:'bold',color:t[2],align:'right'}));
T('BLOOD',72,1412,{rot:90,size:30});T('TUMOR',72,1562.6,{rot:90,size:30});
E.push({type:'line',silent:true,z:40,shape:{x1:89,y1:1346,x2:89,y2:1479},style:{stroke:'#000',lineWidth:1.4}});
E.push({type:'line',silent:true,z:40,shape:{x1:89,y1:1495,x2:89,y2:1626},style:{stroke:'#000',lineWidth:1.4}});
T('CD74',637,1780,{size:14,weight:'bold',color:'#19a7ee'});T('TCOF1',421,1806,{size:13,weight:'bold',color:'#ee1010'});
T('P2G',680,1672,{size:13,font:HEL});
E.push({type:'rect',silent:true,z:40,shape:{x:670,y:1683,width:19,height:65},style:{fill:{type:'linear',x:0,y:0,x2:0,y2:1,colorStops:[{offset:0,color:'#050208'},{offset:.3,color:'#5a1a8c'},{offset:.6,color:'#3a78e8'},{offset:.85,color:'#6fb0f2'},{offset:1,color:'#cfdff2'}]}}});
p2gTicks.forEach((t,i)=>T(t,704,[1691,1704,1717.5,1731,1744][i],{size:11,font:HEL}));
// G text
T('FACS: healthy donor',286,1871,{size:30,weight:'bold',style:'italic'});
T('Tconvs',285,1903,{size:28.5,weight:'bold',color:GREEN});T('Tregs',565,1901,{size:29,weight:'bold',color:NAVY});
T('Gated on Foxp3-',285,1935,{size:28.5});T('Gated on Foxp3+',565,1936,{size:28.5});
T('Surface',90,2079,{rot:90,size:30});T('Total',90,2333,{rot:90,size:30});
T('{b|CD74}{n|-FITC}',131.6,2087,{rot:90,rich:fitc});T('{b|CD74}{n|-FITC}',131.6,2378.6,{rot:90,rich:fitc});
T('{b|CD4}{n|-BV786}',158,2490,{align:'left',rich:fitc});corner(132,2182,147,2199);corner(132,2476,147,2494);
// H text
T('Surface CD74',1016,1938,{size:34.5,weight:500});T('Total CD74',1412,1938,{size:35,weight:500});
const hLab={b:R(36,'bold'),s:R(24,'bold','normal','top')},hSub={n:R(31,300),s:R(20,300,'normal','top')};
const hTxt='{n|Among CD4}{s|+}{n|Foxp3}{s|-}{n| or CD4}{s|+}{n|Foxp3}{s|+}';
T('{b|CD74}{s|+}{b| cells (%)}',833.6,2206,{rot:90,rich:hLab});T(hTxt,880,2208,{rot:90,rich:hSub});
T('{b|CD74}{s|+}{b| cells (%)}',1214,2206,{rot:90,rich:hLab});T(hTxt,1261,2208,{rot:90,rich:hSub});

const chart=echarts.init(document.getElementById('c'),null,{renderer:'canvas',width:1793,height:2500});
chart.setOption({animation:false,backgroundColor:'#fff',grid:G,xAxis:X,yAxis:Y,series:S,graphic:{elements:E}});
</script></body></html>
